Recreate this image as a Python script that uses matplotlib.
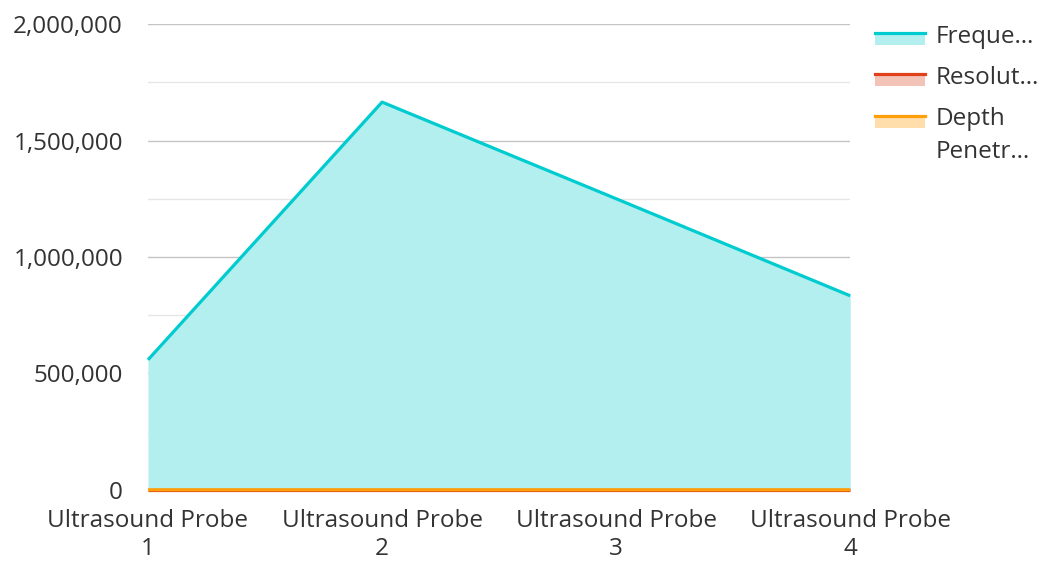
import numpy as np
import matplotlib.pyplot as plt
from matplotlib.patches import Rectangle
from matplotlib.lines import Line2D
from matplotlib.ticker import FuncFormatter, MultipleLocator

# data
probes = ["Ultrasound Probe\n1", "Ultrasound Probe\n2", "Ultrasound Probe\n3", "Ultrasound Probe\n4"]
frequency = [558000, 1665000, 1250000, 833000]
resolution = [0.3, 0.2, 0.25, 0.3]
depth = [5, 8, 10, 15]
legend_labels = ["Freque…", "Resolut…", "Depth\nPenetr…"]

line_colors = ["#00ccd0", "#e0401a", "#ff9f0a"]
fill_colors = ["#b2efee", "#f4c3b8", "#ffdeac"]
handle_shift = [0, 0, 13]  # lift the two-line entry's swatch to its first line

plt.rcParams['font.family'] = ['Open Sans', 'DejaVu Sans']

fig = plt.figure(figsize=(10.42, 5.61), dpi=100)
ax = fig.add_axes([0.142, 0.127, 0.674, 0.830])

x = np.arange(len(probes))
for vals, lc, fc in zip([frequency, resolution, depth], line_colors, fill_colors):
    ax.fill_between(x, 0, vals, color=fc, lw=0, zorder=2)
    ax.plot(x, vals, color=lc, lw=2.3, zorder=3, solid_capstyle='butt', clip_on=False)

ax.set_xlim(0, 3)
ax.set_ylim(0, 2000000)
ax.yaxis.set_major_locator(MultipleLocator(500000))
ax.yaxis.set_minor_locator(MultipleLocator(250000))
ax.yaxis.set_major_formatter(FuncFormatter(lambda v, p: f"{int(v):,}"))
ax.grid(axis='y', which='major', color='#c4c4c4', lw=1, zorder=1)
ax.grid(axis='y', which='minor', color='#e6e6e6', lw=1, zorder=1)
ax.set_xticks(x)
ax.set_xticklabels(probes, linespacing=1.2)
for s in ax.spines.values():
    s.set_visible(False)
ax.tick_params(axis='y', which='both', length=0, pad=18, labelsize=17.5, labelcolor='#333333')
ax.tick_params(axis='x', length=0, pad=14, labelsize=17.5, labelcolor='#333333')


class AreaHandler:
    def legend_artist(self, legend, orig, fontsize, handlebox):
        x0, y0 = handlebox.xdescent, handlebox.ydescent
        w, h = handlebox.width, handlebox.height
        lc, fc, dy = orig
        y0 = y0 + dy
        r = Rectangle((x0, y0), w, h * 0.8, fc=fc, ec='none', transform=handlebox.get_transform())
        l = Line2D([x0, x0 + w], [y0 + h * 0.8, y0 + h * 0.8], color=lc, lw=2.3,
                   transform=handlebox.get_transform())
        handlebox.add_artist(r)
        handlebox.add_artist(l)
        return r


handles = [(lc, fc, dy) for lc, fc, dy in zip(line_colors, fill_colors, handle_shift)]
leg = fig.legend(handles, legend_labels, handler_map={tuple: AreaHandler()},
                 loc='upper left', bbox_to_anchor=(0.8397, 0.955), frameon=False,
                 borderpad=0, borderaxespad=0,
                 fontsize=17.5, handlelength=2.05, handleheight=0.55, handletextpad=0.45,
                 labelspacing=0.7, labelcolor='#333333')
for t in leg.get_texts():
    t.set_linespacing(1.5)

fig.savefig("out.png", dpi=100)
